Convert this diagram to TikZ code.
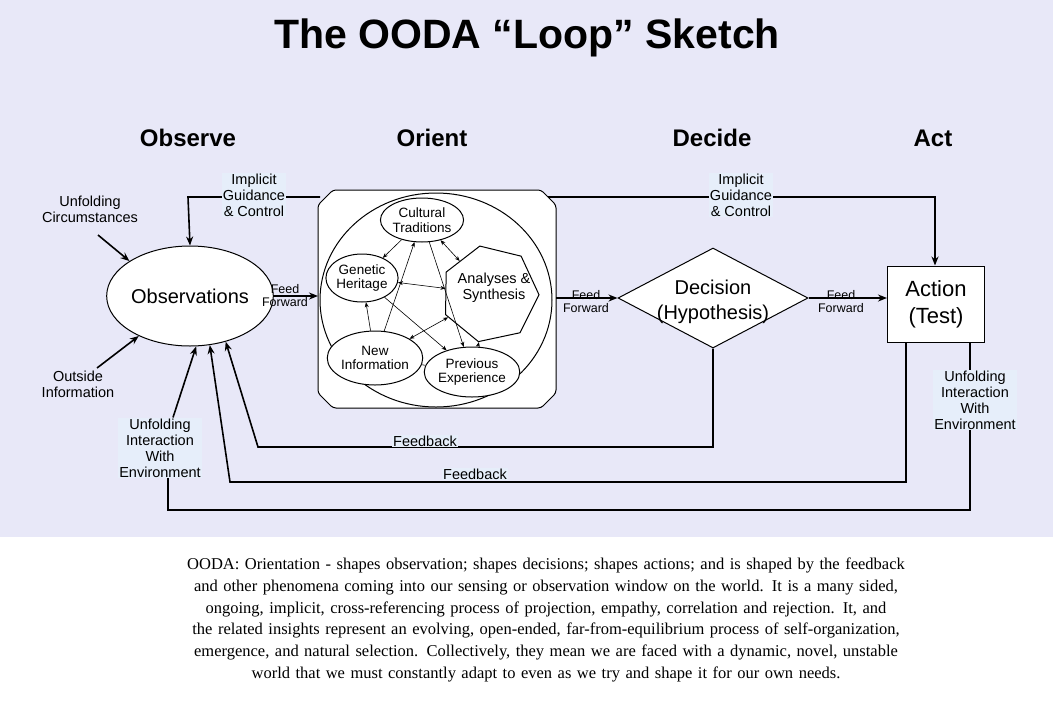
\documentclass[tikz,border=0pt]{standalone}
\usepackage{fontspec}
\setmainfont{Liberation Serif}
\newfontfamily\sans{Liberation Sans}
\usetikzlibrary{shapes.geometric,arrows.meta}
\definecolor{bg}{HTML}{E8E8F8}
\definecolor{lab}{HTML}{E6EEFA}
\begin{document}
\begin{tikzpicture}[x=1pt,y=-1pt,
  every node/.style={font=\sans, align=center, inner sep=1pt},
  lbl/.style={font=\sans\fontsize{14.5}{16}\selectfont, fill=lab},
  sm/.style={font=\sans\fontsize{12.5}{13}\selectfont},
  hd/.style={font=\sans\bfseries\fontsize{24}{26}\selectfont, anchor=base},
  line/.style={line width=1.6pt},
  arr/.style={line width=1.6pt,-{Stealth[length=9pt,width=7pt]}},
  inr/.style={line width=0.6pt,-{Stealth[length=5pt,width=4pt]}},
  inb/.style={line width=0.6pt,{Stealth[length=5pt,width=4pt]}-{Stealth[length=5pt,width=4pt]}},
  ell/.style={draw, ellipse, fill=white, line width=1pt, font=\sans\fontsize{13.5}{14.5}\selectfont, inner sep=0pt}]
\useasboundingbox (0,0) rectangle (1053,705);
\fill[bg] (0,0) rectangle (1053,537);
\node[font=\sans\bfseries\fontsize{41}{44}\selectfont] (title) at (527,38) {The OODA “Loop” Sketch};
\node[hd] (h1) at (188,146) {Observe};
\node[hd] (h2) at (432,146) {Orient};
\node[hd] (h3) at (712,146) {Decide};
\node[hd] (h4) at (933,146) {Act};

% Observations
\node[draw, ellipse, fill=white, line width=1pt, minimum width=130, minimum height=100, inner sep=0pt, font=\sans\fontsize{20}{21}\selectfont] (obs) at (190,296) {Observations};

% Orient box
\draw[line width=1pt, fill=white, rounded corners=3pt] (333,190) -- (541,190) -- (556,205) -- (556,393) -- (541,408) -- (333,408) -- (318,393) -- (318,205) -- cycle;
\coordinate (orL) at (318,296);
\coordinate (orR) at (556,298);
\node[draw, ellipse, line width=1pt, minimum width=232, minimum height=214, inner sep=0pt] (circ) at (436,300) {};
\node[ell, minimum width=70, minimum height=44] (ct) at (422,220) {Cultural\\Traditions};
\node[ell, minimum width=72, minimum height=48] (gh) at (362,278) {Genetic\\Heritage};
\node[draw, regular polygon, regular polygon sides=7, minimum size=98, fill=white, line width=1pt, inner sep=0pt, shape border rotate=12] (as) at (490,294) {};
\node[font=\sans\fontsize{14.5}{16}\selectfont] (ast) at (494,288) {Analyses \&\\Synthesis};
\node[ell, minimum width=78, minimum height=54] (ni) at (375,358) {New\\Information};
\node[ell, minimum width=76, minimum height=50] (pe) at (472,372) {Previous\\Experience};
\draw[inr] (ct) -- (gh);
\draw[inb] (ct) -- (as);
\draw[inb] (gh) -- (as);
\draw[inr] (ni) -- (gh);
\draw[inr] (ni) -- (ct);
\draw[inr] (ct) -- (pe);
\draw[inr] (gh) -- (pe);
\draw[inb] (ni) -- (as);
\draw[inr] (pe) -- (as);
\draw[line width=0.6pt] (ni) -- (pe);

% Decision
\node[draw, diamond, aspect=1.9, fill=white, line width=1pt, minimum width=190, minimum height=100, inner sep=0pt] (dec) at (713,298) {};
\node[font=\sans\fontsize{20}{25}\selectfont] (dect) at (713,302) {Decision\\(Hypothesis)};

% Action
\node[draw, fill=white, line width=1pt, minimum width=97, minimum height=76, font=\sans\fontsize{22}{27}\selectfont] (act) at (936,304) {Action\\(Test)};

% feed forward
\draw[arr] (obs) -- (orL);
\node[sm] (ff1) at (285,296) {Feed\\Forward};
\draw[arr] (orR) -- (dec.west);
\node[sm] (ff2) at (586,302) {Feed\\Forward};
\draw[arr] (dec.east) -- (act.west|-dec.east);
\node[sm] (ff3) at (841,302) {Feed\\Forward};

% implicit guidance
\coordinate (ig1) at (188,197);
\draw[arr] (320,197) -- (ig1) -- (obs.north);
\node[lbl] (igl) at (254,195) {Implicit\\Guidance\\\& Control};
\coordinate (ig2) at (935,197);
\draw[arr] (548,197) -- (ig2) -- (act.north-|ig2);
\node[lbl] (igr) at (741,195) {Implicit\\Guidance\\\& Control};

% external inputs
\node[lbl, fill=none] (uc) at (90,209) {Unfolding\\Circumstances};
\draw[arr] (98,235) -- (obs.150);
\node[lbl, fill=none] (oi) at (78,384) {Outside\\Information};
\draw[arr] (97,368) -- (obs.218);

% feedbacks
\coordinate (fb1a) at (713,447);
\coordinate (fb1b) at (258,447);
\draw[arr] (dec.south) -- (fb1a) -- (fb1b) -- (obs.-52);
\node[lbl] (fb1) at (425,441) {Feedback};
\coordinate (fb2s) at (906,342);
\coordinate (fb2a) at (906,482);
\coordinate (fb2b) at (230,482);
\draw[arr] (fb2s) -- (fb2a) -- (fb2b) -- (obs.-68);
\node[lbl] (fb2) at (475,474) {Feedback};
\coordinate (ui0) at (970,342);
\coordinate (ui1) at (970,510);
\coordinate (ui2) at (168,510);
\draw[line] (ui0) -- (ui1) -- (ui2) -- (168,475);
\node[lbl] (uil) at (160,448) {Unfolding\\Interaction\\With\\Environment};
\draw[arr] (uil.north-|173,0) -- (obs.-83);
\node[lbl] (uir) at (975,400) {Unfolding\\Interaction\\With\\Environment};

% caption
\node[font=\fontsize{16.5}{21.7}\selectfont, text width=900, align=center] (cap) at (546,620) {OODA: Orientation - shapes observation; shapes decisions; shapes actions; and is shaped by the feedback\\and other phenomena coming into our sensing or observation window on the world. It is a many sided,\\ongoing, implicit, cross-referencing process of projection, empathy, correlation and rejection. It, and\\the related insights represent an evolving, open-ended, far-from-equilibrium process of self-organization,\\emergence, and natural selection. Collectively, they mean we are faced with a dynamic, novel, unstable\\world that we must constantly adapt to even as we try and shape it for our own needs.};
\end{tikzpicture}
\end{document}
